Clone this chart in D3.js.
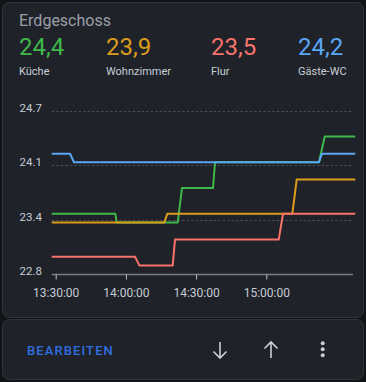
<!DOCTYPE html>
<html>
<head>
<meta charset="utf-8">
<script src="https://cdn.jsdelivr.net/npm/d3@7"></script>
<style>
  html, body { margin: 0; padding: 0; background: #111317; }
  svg { display: block; font-family: Roboto, "Noto Sans", sans-serif; }
</style>
</head>
<body>
<svg id="chart" width="366" height="382"></svg>
<script>
// rooms, in legend order (later ones are drawn on top)
var rooms = ["Küche", "Wohnzimmer", "Flur", "Gäste-WC"];
var colors = ["#3fb84b", "#dc9c1c", "#f7736a", "#5aa6f4"];

// sample times + readings per room
var kuecheTimes = ["13:28:17", "13:55:28", "13:56:04", "14:22:08", "14:23:58", "14:37:13", "14:38:05", "15:22:31", "15:24:58", "15:38:02"];
var kuecheVals  = [23.5, 23.5, 23.4, 23.4, 23.8, 23.8, 24.1, 24.1, 24.4, 24.4];

var wohnTimes = ["13:28:17", "14:16:25", "14:17:41", "15:11:07", "15:13:00", "15:38:02"];
var wohnVals  = [23.4, 23.4, 23.5, 23.5, 23.9, 23.9];

var flurTimes = ["13:28:17", "14:03:53", "14:05:44", "14:20:00", "14:20:59", "15:05:18", "15:07:08", "15:38:02"];
var flurVals  = [23.0, 23.0, 22.9, 22.9, 23.2, 23.2, 23.5, 23.5];

var wcTimes = ["13:28:17", "13:36:07", "13:37:49", "15:22:31", "15:23:48", "15:38:02"];
var wcVals  = [24.2, 24.2, 24.1, 24.1, 24.2, 24.2];

var yTicks = [22.8, 23.4333, 24.0667, 24.7];
var xTicks = ["13:30:00", "14:00:00", "14:30:00", "15:00:00"];
var xStart = "13:28:17", xEnd = "15:37:03";

var parseT = d3.timeParse("%H:%M:%S");
var series = [
  [kuecheTimes, kuecheVals],
  [wohnTimes, wohnVals],
  [flurTimes, flurVals],
  [wcTimes, wcVals]
].map(function(s) {
  return s[0].map(function(t, i) { return {t: parseT(t), v: s[1][i]}; });
});

var svg = d3.select("#chart");

// cards
svg.append("rect").attr("x", 2.5).attr("y", 2.5).attr("width", 361).attr("height", 315)
  .attr("rx", 7).attr("fill", "#1f2229").attr("stroke", "#30343b");
svg.append("rect").attr("x", 2.5).attr("y", 319.5).attr("width", 361).attr("height", 60)
  .attr("rx", 7).attr("fill", "#1f2229").attr("stroke", "#30343b");

// header
svg.append("text").attr("x", 19).attr("y", 26).attr("font-size", 16)
  .attr("fill", "#9ba0a8").text("Erdgeschoss");

var headX = [19, 106, 211, 298];
rooms.forEach(function(r, i) {
  var last = series[i][series[i].length - 1].v;
  svg.append("text").attr("x", headX[i]).attr("y", 55).attr("font-size", 24)
    .attr("fill", colors[i]).text(d3.format(".1f")(last).replace(".", ","));
  svg.append("text").attr("x", headX[i]).attr("y", 75).attr("font-size", 11)
    .attr("fill", "#c9ced6").text(r);
});

// scales
var x = d3.scaleTime().domain([parseT(xStart), parseT(xEnd)]).range([51.7, 353]);
var y = d3.scaleLinear().domain([22.8, 24.7]).range([274, 110.7]);

// grid
var grid = svg.append("g");
yTicks.slice(1).forEach(function(v) {
  grid.append("line").attr("x1", 51.7).attr("x2", 353)
    .attr("y1", Math.round(y(v)) + 0.5).attr("y2", Math.round(y(v)) + 0.5)
    .attr("stroke", "#4a4d53").attr("stroke-dasharray", "2.5,2");
});

// y axis labels
var yAxis = d3.axisLeft(y).tickValues(yTicks).tickSize(0).tickPadding(0)
  .tickFormat(d3.format(".1f"));
var gy = svg.append("g").attr("transform", "translate(42,-3)").call(yAxis);
gy.select(".domain").remove();
gy.selectAll("text").attr("font-size", 11.5).attr("fill", "#c6ccd5")
  .attr("font-family", "Roboto, sans-serif");

// x axis
var xAxis = d3.axisBottom(x).tickValues(xTicks.map(parseT)).tickSize(5).tickPadding(9)
  .tickFormat(d3.timeFormat("%H:%M:%S"));
var gx = svg.append("g").attr("transform", "translate(0,274.5)").call(xAxis);
gx.select(".domain").attr("stroke", "#7a7c80").attr("stroke-width", 1.5)
  .attr("d", "M51.7,0H353");
gx.selectAll(".tick line").attr("stroke", "#b9bcc0");
gx.selectAll("text").attr("font-size", 12).attr("fill", "#c6ccd5")
  .attr("font-family", "Roboto, sans-serif");

// lines
var line = d3.line().x(function(d) { return x(d.t); }).y(function(d) { return y(d.v); });
series.forEach(function(s, i) {
  svg.append("path").datum(s).attr("d", line).attr("fill", "none")
    .attr("stroke", colors[i]).attr("stroke-width", 2).attr("stroke-linejoin", "round");
});

// footer
svg.append("text").attr("x", 27).attr("y", 354.5).attr("font-size", 13)
  .attr("font-weight", 500).attr("letter-spacing", 1.1).attr("fill", "#2e6fe0")
  .text("BEARBEITEN");
// arrows drawn as thin strokes
svg.append("path").attr("d", "M220,342V358M213.5,351.5L220,358L226.5,351.5")
  .attr("fill", "none").attr("stroke", "#c9ced6").attr("stroke-width", 1.6);
svg.append("path").attr("d", "M271,358V342M264.5,348.5L271,342L277.5,348.5")
  .attr("fill", "none").attr("stroke", "#c9ced6").attr("stroke-width", 1.6);
[343.3, 349.3, 355.3].forEach(function(cy) {
  svg.append("circle").attr("cx", 322.7).attr("cy", cy).attr("r", 2).attr("fill", "#c9ced6");
});
</script>
</body>
</html>
